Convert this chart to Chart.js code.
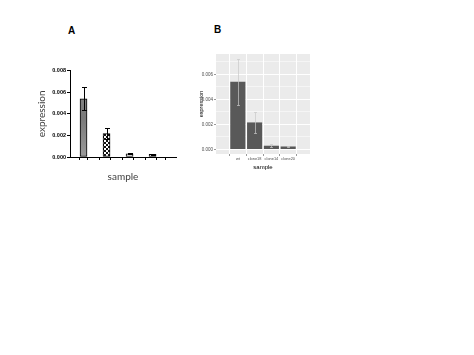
<!DOCTYPE html>
<html>
<head>
<meta charset="utf-8">
<script src="https://cdn.jsdelivr.net/npm/chart.js@4.4.0/dist/chart.umd.min.js"></script>
<style>
  body { margin: 0; background: #fff; width: 474px; height: 355px; position: relative; overflow: hidden; }
  .panel { position: absolute; font-family: Arial, "Liberation Sans", sans-serif; font-weight: bold; font-size: 10px; color: #000; }
  canvas { position: absolute; }
</style>
</head>
<body>
<div class="panel" style="left:68px; top:25px;">A</div>
<div class="panel" style="left:214px; top:24px;">B</div>
<canvas id="chartA" width="170" height="140" style="left:20px; top:50px;"></canvas>
<canvas id="chartB" width="130" height="130" style="left:190px; top:45px;"></canvas>
<script>
// values
const samples = ['wt', 'clone18', 'clone14', 'clone20'];
const expression = [0.0054, 0.00216, 0.0003, 0.00024];
const semA = [0.00106, 0.0005, 0.00005, 0.00004];   // panel A error bars
const sdB = [0.00184, 0.00087, 0.0001, 0.00007];    // panel B error bars
const ticksA = [0, 0.002, 0.004, 0.006, 0.008];
const majorB = [0, 0.002, 0.004, 0.006];
const minorB = [0.001, 0.003, 0.005, 0.007];

const errorBars = {
  id: 'errorBars',
  afterDatasetsDraw(chart, args, opts) {
    const ctx = chart.ctx;
    const y = chart.scales.y;
    const pts = chart.data.datasets[0].data;
    ctx.save();
    ctx.strokeStyle = opts.color;
    ctx.lineWidth = opts.lineWidth;
    chart.getDatasetMeta(0).data.forEach((bar, i) => {
      const v = pts[i].y, e = opts.errors[i];
      const x = Math.round(bar.x) + 0.5;
      const top = Math.round(y.getPixelForValue(v + e)) + 0.5;
      const bot = Math.round(y.getPixelForValue(v - e)) + 0.5;
      const c = opts.cap / 2;
      ctx.beginPath();
      ctx.moveTo(x, top); ctx.lineTo(x, bot);
      ctx.moveTo(x - c, top); ctx.lineTo(x + c, top);
      ctx.moveTo(x - c, bot); ctx.lineTo(x + c, bot);
      ctx.stroke();
    });
    ctx.restore();
  }
};

const panelBg = {
  id: 'panelBg',
  beforeDraw(chart, args, opts) {
    if (!opts.color) return;
    const a = chart.chartArea;
    chart.ctx.save();
    chart.ctx.fillStyle = opts.color;
    chart.ctx.fillRect(a.left, a.top, a.width, a.height);
    chart.ctx.restore();
  }
};

// fills for panel A
function checker() {
  const c = document.createElement('canvas');
  c.width = 4; c.height = 4;
  const g = c.getContext('2d');
  g.fillStyle = '#fff'; g.fillRect(0, 0, 4, 4);
  g.fillStyle = '#111'; g.fillRect(0, 0, 2, 2); g.fillRect(2, 2, 2, 2);
  return g.createPattern(c, 'repeat');
}
function grayShade(ctx) {
  const a = ctx.chart.chartArea;
  if (!a) return '#8c8c8c';
  const g = ctx.chart.ctx.createLinearGradient(0, a.top, 0, a.bottom);
  g.addColorStop(0, '#8a8a8a');
  g.addColorStop(0.55, '#7a7a7a');
  g.addColorStop(1, '#9a9a9a');
  return g;
}
const checkPattern = checker();
const fillsA = [grayShade, checkPattern, '#ffffff', '#ffffff'];

const isMajor = v => majorB.some(m => Math.abs(m - v) < 1e-9);

new Chart(document.getElementById('chartA'), {
  type: 'bar',
  data: {
    datasets: [{
      data: expression.map((v, i) => ({ x: i + 1, y: v })),
      backgroundColor: c => {
        const f = fillsA[c.dataIndex];
        return typeof f === 'function' ? f(c) : f;
      },
      borderColor: '#000',
      borderWidth: 1,
      borderSkipped: false,
      barThickness: 7
    }]
  },
  plugins: [errorBars],
  options: {
    responsive: false,
    animation: false,
    layout: { padding: { top: 20.7, right: 14, bottom: 3, left: 0 } },
    plugins: {
      legend: { display: false },
      tooltip: { enabled: false },
      errorBars: { errors: semA, color: '#000', lineWidth: 1, cap: 5 }
    },
    scales: {
      x: {
        type: 'linear', min: 0.7, max: 4.73,
        afterBuildTicks: s => { s.ticks = [1, 1.38, 2, 2.38, 3, 3.38, 4, 4.38].map(v => ({ value: v })); },
        afterFit: s => { s.height = 30; },
        ticks: { callback: () => '', autoSkip: false },
        grid: { drawOnChartArea: false, tickLength: 3, color: '#000' },
        border: { color: '#000', width: 1 },
        title: { display: true, text: 'sample', color: '#404040', font: { family: 'Lato', size: 10 }, padding: { top: 0, bottom: 4 } }
      },
      y: {
        min: 0, max: 0.008,
        afterBuildTicks: s => { s.ticks = ticksA.map(v => ({ value: v })); },
        afterFit: s => { s.width = 50; },
        ticks: { callback: v => v.toFixed(3), color: '#000', padding: 1, font: { family: 'Arial', size: 5.5, weight: 'bold' } },
        grid: { drawOnChartArea: false, tickLength: 3, color: '#000' },
        border: { color: '#000', width: 1 },
        title: { display: true, text: 'expression', color: '#404040', font: { family: 'Lato', size: 10 }, padding: { top: 16, bottom: 0 } }
      }
    }
  }
});

new Chart(document.getElementById('chartB'), {
  type: 'bar',
  data: {
    datasets: [{
      data: expression.map((v, i) => ({ x: i + 1, y: v })),
      backgroundColor: '#595959',
      borderWidth: 0,
      barPercentage: 0.9,
      categoryPercentage: 1
    }]
  },
  plugins: [panelBg, errorBars],
  options: {
    responsive: false,
    animation: false,
    layout: { padding: { top: 9, right: 10, bottom: 3, left: 0 } },
    plugins: {
      legend: { display: false },
      tooltip: { enabled: false },
      panelBg: { color: '#ebebeb' },
      errorBars: { errors: sdB, color: '#c8c8c8', lineWidth: 0.7, cap: 3 }
    },
    scales: {
      x: {
        type: 'linear', min: 0.4, max: 4.6,
        afterBuildTicks: s => { s.ticks = samples.map((c, i) => ({ value: i + 1 })); },
        afterFit: s => { s.height = 18; },
        ticks: { callback: v => samples[v - 1], autoSkip: false, maxRotation: 0, color: '#4d4d4d', padding: 1, font: { family: 'Arial', size: 3.9 } },
        grid: { color: '#fff', lineWidth: 1, tickLength: 2, tickColor: '#333', tickWidth: 0.5 },
        border: { display: false },
        title: { display: true, text: 'sample', color: '#000', font: { family: 'Arial', size: 6 }, padding: { top: 0, bottom: 1.5 } }
      },
      y: {
        min: -0.00036, max: 0.00762,
        afterBuildTicks: s => { s.ticks = majorB.concat(minorB).sort((a, b) => a - b).map(v => ({ value: v })); },
        afterFit: s => { s.width = 26; },
        ticks: { callback: v => isMajor(v) ? v.toFixed(3) : '', autoSkip: false, color: '#4d4d4d', padding: 1, font: { family: 'Arial', size: 4.5 } },
        grid: {
          color: '#fff',
          lineWidth: c => isMajor(c.tick.value) ? 1 : 0.5,
          tickLength: 2,
          tickColor: c => isMajor(c.tick.value) ? '#333' : 'rgba(0,0,0,0)',
          tickWidth: 0.5
        },
        border: { display: false },
        title: { display: true, text: 'expression', color: '#000', font: { family: 'Arial', size: 5.5 }, padding: { top: 7.7, bottom: 0 } }
      }
    }
  }
});
</script>
</body>
</html>
